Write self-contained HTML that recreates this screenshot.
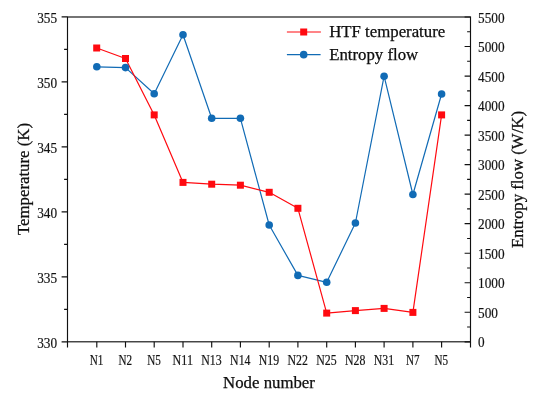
<!DOCTYPE html>
<html><head><meta charset="utf-8"><title>Chart</title>
<style>html,body{margin:0;padding:0;background:#fff}svg{display:block}text{font-family:"Liberation Serif","Times New Roman",serif;fill:#111}</style></head><body>
<svg width="550" height="402" viewBox="0 0 550 402">
<rect width="550" height="402" fill="#fff"/>
<polyline points="96.8,66.8 125.5,67.6 154.2,93.8 183.0,34.8 211.7,118.3 240.4,118.3 269.2,225.0 297.9,275.4 326.7,282.3 355.4,223.0 384.1,76.2 412.9,194.5 441.6,94.0" fill="none" stroke="#116bb5" stroke-width="1.2" stroke-linejoin="round"/>
<polyline points="96.8,48.0 125.5,58.5 154.2,114.9 183.0,182.4 211.7,184.2 240.4,185.2 269.2,192.3 297.9,208.3 326.7,313.1 355.4,310.6 384.1,308.4 412.9,312.4 441.6,114.9" fill="none" stroke="#ff0a10" stroke-width="1.2" stroke-linejoin="round"/>
<circle cx="96.8" cy="66.8" r="3.8" fill="#116bb5"/>
<circle cx="125.5" cy="67.6" r="3.8" fill="#116bb5"/>
<circle cx="154.2" cy="93.8" r="3.8" fill="#116bb5"/>
<circle cx="183.0" cy="34.8" r="3.8" fill="#116bb5"/>
<circle cx="211.7" cy="118.3" r="3.8" fill="#116bb5"/>
<circle cx="240.4" cy="118.3" r="3.8" fill="#116bb5"/>
<circle cx="269.2" cy="225.0" r="3.8" fill="#116bb5"/>
<circle cx="297.9" cy="275.4" r="3.8" fill="#116bb5"/>
<circle cx="326.7" cy="282.3" r="3.8" fill="#116bb5"/>
<circle cx="355.4" cy="223.0" r="3.8" fill="#116bb5"/>
<circle cx="384.1" cy="76.2" r="3.8" fill="#116bb5"/>
<circle cx="412.9" cy="194.5" r="3.8" fill="#116bb5"/>
<circle cx="441.6" cy="94.0" r="3.8" fill="#116bb5"/>
<rect x="93.2" y="44.5" width="7" height="7" fill="#ff0a10"/>
<rect x="122.0" y="55.0" width="7" height="7" fill="#ff0a10"/>
<rect x="150.7" y="111.4" width="7" height="7" fill="#ff0a10"/>
<rect x="179.5" y="178.9" width="7" height="7" fill="#ff0a10"/>
<rect x="208.2" y="180.7" width="7" height="7" fill="#ff0a10"/>
<rect x="236.9" y="181.7" width="7" height="7" fill="#ff0a10"/>
<rect x="265.7" y="188.8" width="7" height="7" fill="#ff0a10"/>
<rect x="294.4" y="204.8" width="7" height="7" fill="#ff0a10"/>
<rect x="323.2" y="309.6" width="7" height="7" fill="#ff0a10"/>
<rect x="351.9" y="307.1" width="7" height="7" fill="#ff0a10"/>
<rect x="380.6" y="304.9" width="7" height="7" fill="#ff0a10"/>
<rect x="409.4" y="308.9" width="7" height="7" fill="#ff0a10"/>
<rect x="438.1" y="111.4" width="7" height="7" fill="#ff0a10"/>
<rect x="67.5" y="17.0" width="403.0" height="324.8" fill="none" stroke="#111" stroke-width="1.15"/>
<path d="M67.5 341.80h-5.9 M67.5 309.30h-3.4 M67.5 276.80h-5.9 M67.5 244.30h-3.4 M67.5 211.80h-5.9 M67.5 179.30h-3.4 M67.5 146.80h-5.9 M67.5 114.30h-3.4 M67.5 81.80h-5.9 M67.5 49.30h-3.4 M67.5 16.80h-5.9 M470.5 341.80h-5.9 M470.5 327.04h-3.4 M470.5 312.27h-5.9 M470.5 297.51h-3.4 M470.5 282.75h-5.9 M470.5 267.98h-3.4 M470.5 253.22h-5.9 M470.5 238.45h-3.4 M470.5 223.69h-5.9 M470.5 208.93h-3.4 M470.5 194.16h-5.9 M470.5 179.40h-3.4 M470.5 164.64h-5.9 M470.5 149.87h-3.4 M470.5 135.11h-5.9 M470.5 120.35h-3.4 M470.5 105.58h-5.9 M470.5 90.82h-3.4 M470.5 76.05h-5.9 M470.5 61.29h-3.4 M470.5 46.53h-5.9 M470.5 31.76h-3.4 M470.5 17.00h-5.9 M96.8 341.8v5.8 M125.5 341.8v5.8 M154.2 341.8v5.8 M183.0 341.8v5.8 M211.7 341.8v5.8 M240.4 341.8v5.8 M269.2 341.8v5.8 M297.9 341.8v5.8 M326.7 341.8v5.8 M355.4 341.8v5.8 M384.1 341.8v5.8 M412.9 341.8v5.8 M441.6 341.8v5.8 M67.5 341.8v5.8 M470.5 341.8v5.8" stroke="#111" stroke-width="1.15" fill="none"/>
<g font-size="13.8" stroke="#222" stroke-width="0.2">
<text x="37.2" y="347.7" textLength="19.9" lengthAdjust="spacingAndGlyphs">330</text>
<text x="37.2" y="282.7" textLength="19.9" lengthAdjust="spacingAndGlyphs">335</text>
<text x="37.2" y="217.7" textLength="19.9" lengthAdjust="spacingAndGlyphs">340</text>
<text x="37.2" y="152.7" textLength="19.9" lengthAdjust="spacingAndGlyphs">345</text>
<text x="37.2" y="87.7" textLength="19.9" lengthAdjust="spacingAndGlyphs">350</text>
<text x="37.2" y="22.7" textLength="19.9" lengthAdjust="spacingAndGlyphs">355</text>
<text x="478" y="347.4" textLength="6.6" lengthAdjust="spacingAndGlyphs">0</text>
<text x="478" y="317.9" textLength="19.9" lengthAdjust="spacingAndGlyphs">500</text>
<text x="478" y="288.3" textLength="26.5" lengthAdjust="spacingAndGlyphs">1000</text>
<text x="478" y="258.8" textLength="26.5" lengthAdjust="spacingAndGlyphs">1500</text>
<text x="478" y="229.3" textLength="26.5" lengthAdjust="spacingAndGlyphs">2000</text>
<text x="478" y="199.8" textLength="26.5" lengthAdjust="spacingAndGlyphs">2500</text>
<text x="478" y="170.2" textLength="26.5" lengthAdjust="spacingAndGlyphs">3000</text>
<text x="478" y="140.7" textLength="26.5" lengthAdjust="spacingAndGlyphs">3500</text>
<text x="478" y="111.2" textLength="26.5" lengthAdjust="spacingAndGlyphs">4000</text>
<text x="478" y="81.7" textLength="26.5" lengthAdjust="spacingAndGlyphs">4500</text>
<text x="478" y="52.1" textLength="26.5" lengthAdjust="spacingAndGlyphs">5000</text>
<text x="478" y="22.6" textLength="26.5" lengthAdjust="spacingAndGlyphs">5500</text>
<text x="89.8" y="364.5" textLength="13.6" lengthAdjust="spacingAndGlyphs">N1</text>
<text x="118.5" y="364.5" textLength="13.6" lengthAdjust="spacingAndGlyphs">N2</text>
<text x="147.2" y="364.5" textLength="13.6" lengthAdjust="spacingAndGlyphs">N5</text>
<text x="172.6" y="364.5" textLength="20.4" lengthAdjust="spacingAndGlyphs">N11</text>
<text x="201.3" y="364.5" textLength="20.4" lengthAdjust="spacingAndGlyphs">N13</text>
<text x="230.1" y="364.5" textLength="20.4" lengthAdjust="spacingAndGlyphs">N14</text>
<text x="258.8" y="364.5" textLength="20.4" lengthAdjust="spacingAndGlyphs">N19</text>
<text x="287.5" y="364.5" textLength="20.4" lengthAdjust="spacingAndGlyphs">N22</text>
<text x="316.3" y="364.5" textLength="20.4" lengthAdjust="spacingAndGlyphs">N25</text>
<text x="345.0" y="364.5" textLength="20.4" lengthAdjust="spacingAndGlyphs">N28</text>
<text x="373.8" y="364.5" textLength="20.4" lengthAdjust="spacingAndGlyphs">N31</text>
<text x="405.9" y="364.5" textLength="13.6" lengthAdjust="spacingAndGlyphs">N7</text>
<text x="434.6" y="364.5" textLength="13.6" lengthAdjust="spacingAndGlyphs">N5</text>
</g>
<g font-size="16.8" fill="#000" stroke="#000" stroke-width="0.25">
<text x="269.0" y="387.8" text-anchor="middle">Node number</text>
<text transform="translate(29.2 179) rotate(-90)" text-anchor="middle">Temperature (K)</text>
<text transform="translate(523.2 179.5) rotate(-90)" text-anchor="middle">Entropy flow (W/K)</text>
<text x="329.2" y="37.2">HTF temperature</text>
<text x="329.2" y="60.1">Entropy flow</text>
</g>
<path d="M286.9 32H320.9" stroke="#ff0a10" stroke-width="1.2"/><rect x="300.2" y="28.5" width="7" height="7" fill="#ff0a10"/>
<path d="M286.9 54.65H320.6" stroke="#116bb5" stroke-width="1.2"/><circle cx="303.7" cy="54.65" r="3.8" fill="#116bb5"/>
</svg></body></html>
